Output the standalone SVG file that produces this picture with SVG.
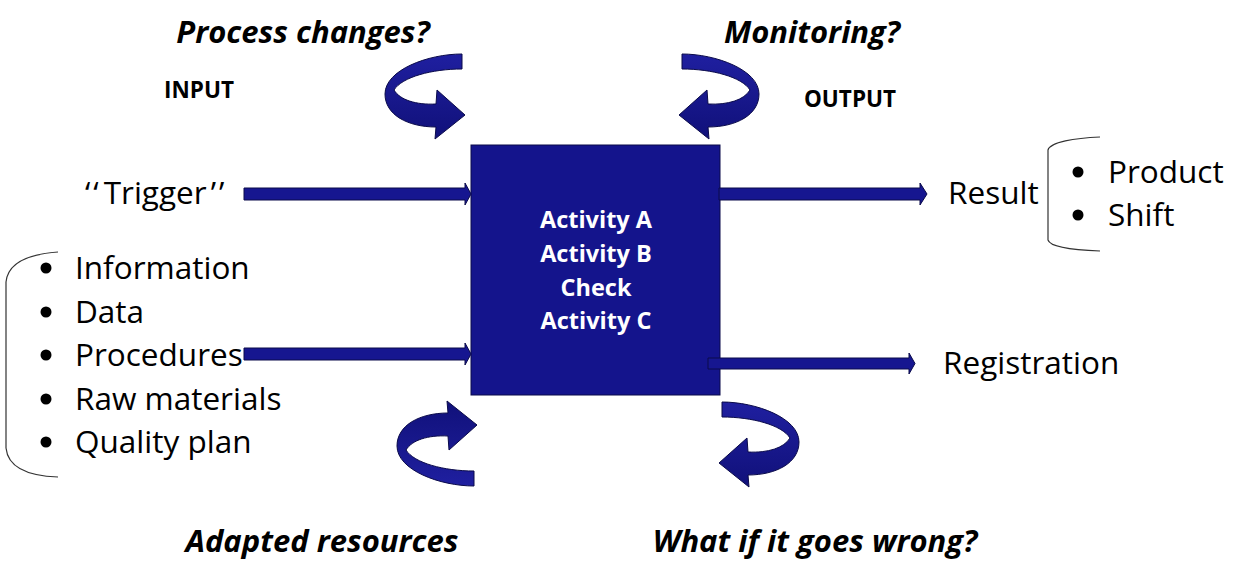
<svg xmlns="http://www.w3.org/2000/svg" width="1241" height="581" viewBox="0 0 1241 581">
<defs>
<style>
.t{font-family:"Open Sans","Liberation Sans",sans-serif;font-size:31.5px;fill:#000}
.q{font-family:"Open Sans","Liberation Sans",sans-serif;font-size:31px;font-weight:bold;font-style:italic;fill:#000}
.h{font-family:"Open Sans","Liberation Sans",sans-serif;font-size:22.5px;font-weight:bold;fill:#000}
.w{font-family:"Open Sans","Liberation Sans",sans-serif;font-size:23.5px;font-weight:bold;fill:#fff}
.arr{fill:#161690;stroke:#0a0a4a;stroke-width:1}
.rib{fill:url(#g);stroke:#0a0a4a;stroke-width:1}
.br{fill:none;stroke:#333;stroke-width:1.2}
</style>
<linearGradient id="g" x1="0" y1="0" x2="0" y2="1">
<stop offset="0" stop-color="#1f1fa0"/>
<stop offset="0.5" stop-color="#18188c"/>
<stop offset="1" stop-color="#10107a"/>
</linearGradient>
<path id="curl" d="M462,54 C428,54 385,70 385,94 C385,115 408,127 436,127 L435,139 L465,115 L437,90 L436,104 C416,105 400,100 394,90 C402,77 432,69 462,69 Z"/>
</defs>
<rect width="1241" height="581" fill="#fff"/>

<g id="process">
<rect x="471" y="145" width="249" height="250" fill="#14148c" stroke="#0a0a4a" stroke-width="1"/>
<text class="w" x="596" y="228" text-anchor="middle">Activity A</text>
<text class="w" x="596" y="262" text-anchor="middle">Activity B</text>
<text class="w" x="596" y="296" text-anchor="middle">Check</text>
<text class="w" x="596" y="329" text-anchor="middle">Activity C</text>
</g>

<g id="connectors">
<path class="arr" d="M244,188 H465 V183 L471,194 L465,205 V200 H244 Z"/>
<path class="arr" d="M244,348 H465 V343 L471,354 L465,365 V360 H244 Z"/>
<path class="arr" d="M719,188 H920 V183 L927,194 L920,205 V200 H719 Z"/>
<path class="arr" d="M708,358 H909 V353 L915,363.5 L909,374 V369 H708 Z"/>
</g>

<g id="curl-process-changes"><use href="#curl" class="rib"/></g>
<g id="curl-monitoring"><use href="#curl" class="rib" transform="matrix(-1,0,0,1,1144,0)"/></g>
<g id="curl-adapted"><use href="#curl" class="rib" transform="matrix(1,0,0,-1,12,540)"/></g>
<g id="curl-wrong"><use href="#curl" class="rib" transform="matrix(-1,0,0,1,1184,348)"/></g>

<g id="labels-top">
<text class="q" x="303" y="43" text-anchor="middle">Process changes?</text>
<text class="q" x="812" y="43" text-anchor="middle">Monitoring?</text>
<text class="h" x="199" y="98" text-anchor="middle">INPUT</text>
<text class="h" x="850" y="107" text-anchor="middle">OUTPUT</text>
</g>

<g id="labels-bottom">
<text class="q" x="322" y="552" text-anchor="middle">Adapted resources</text>
<text class="q" x="815" y="552" text-anchor="middle">What if it goes wrong?</text>
</g>

<g id="trigger">
<text class="t" x="85" y="204"><tspan letter-spacing="3">‘‘</tspan><tspan dx="2">Trigger</tspan><tspan dx="4" letter-spacing="3">’’</tspan></text>
</g>

<g id="inputs">
<path class="br" d="M58,252 C30,254 8,262 6,282 V448 C8,468 30,476 58,477"/>
<circle cx="46" cy="268" r="5.5"/>
<circle cx="46" cy="312" r="5.5"/>
<circle cx="46" cy="355" r="5.5"/>
<circle cx="46" cy="399" r="5.5"/>
<circle cx="46" cy="442" r="5.5"/>
<text class="t" x="75" y="279">Information</text>
<text class="t" x="75" y="323">Data</text>
<text class="t" x="75" y="366">Procedures</text>
<text class="t" x="75" y="410">Raw materials</text>
<text class="t" x="75" y="453">Quality plan</text>
</g>

<g id="result">
<text class="t" x="948" y="204">Result</text>
<path class="br" d="M1100,137 C1075,138 1050,142 1048,150 V240 C1050,247 1075,250 1100,251"/>
<circle cx="1078" cy="172" r="5.5"/>
<circle cx="1078" cy="215" r="5.5"/>
<text class="t" x="1108" y="183">Product</text>
<text class="t" x="1108" y="226">Shift</text>
</g>

<g id="registration">
<text class="t" x="943" y="374">Registration</text>
</g>
</svg>
